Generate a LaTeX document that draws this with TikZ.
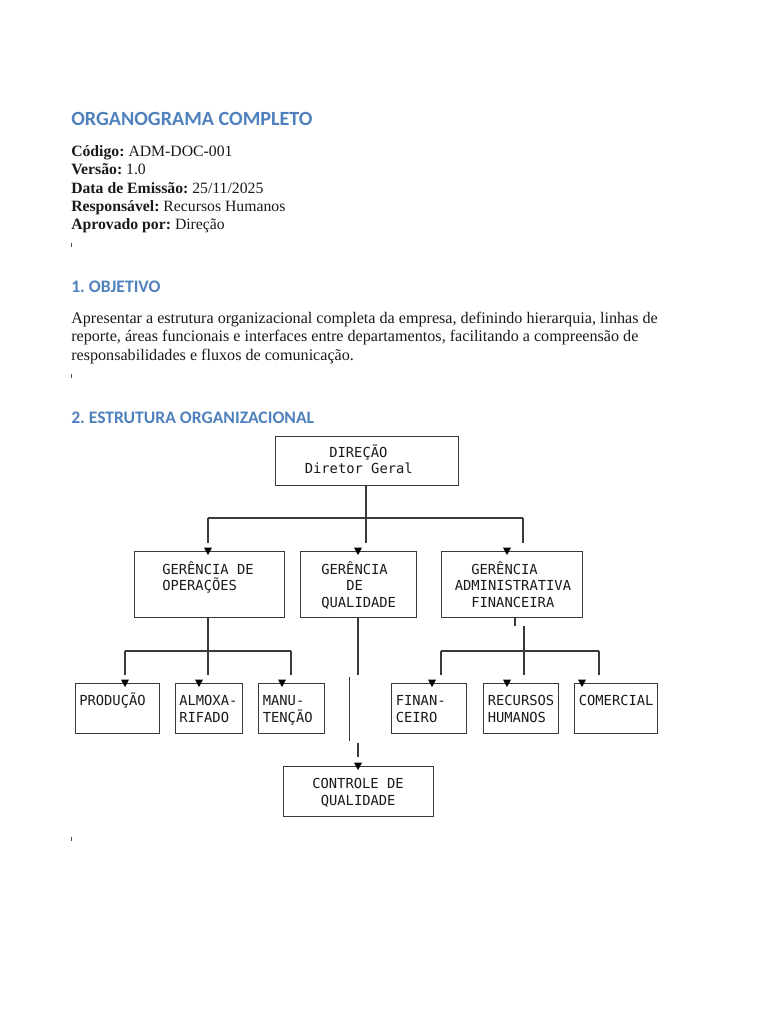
\documentclass[tikz,border=0pt]{standalone}
\usepackage{fontspec}
\setmainfont{Liberation Serif}
\newfontfamily\headfont{Carlito}
\newfontfamily\chartfont{DejaVu Sans Mono}
\definecolor{headblue}{HTML}{4F81BD}
\definecolor{textblack}{HTML}{1A1A1A}
\definecolor{linegray}{HTML}{3A3A3A}
\frenchspacing
\begin{document}
\begin{tikzpicture}[x=0.75pt,y=-0.75pt,
  txt/.style={anchor=base west, inner sep=0pt, text=textblack, font=\fontsize{12.1}{14}\selectfont},
  meta/.style={anchor=base west, inner sep=0pt, text=textblack, font=\fontsize{11.8}{14}\selectfont},
  title/.style={anchor=base west, inner sep=0pt, text=headblue, font=\headfont\bfseries\fontsize{15.1}{18}\selectfont},
  head/.style={anchor=base west, inner sep=0pt, text=headblue, font=\headfont\bfseries\fontsize{13.2}{15}\selectfont},
  pbox/.style 2 args={draw=linegray, line width=0.9pt, inner sep=0pt, anchor=north west,
     minimum width=#1*0.75pt, minimum height=#2*0.75pt},
  mono/.style={anchor=base west, inner sep=0pt, text=textblack, font=\chartfont\fontsize{10.35}{12}\selectfont},
  conn/.style={draw=linegray, line width=0.9pt},
  tick/.style={draw=black!70, line width=0.6pt},
  tiph/.style={fill=black}
]
\useasboundingbox[fill=white] (0,0) rectangle (768,1024);

% ---------- header text ----------
\node[title] (title) at (71,125) {ORGANOGRAMA COMPLETO};
\node[meta] (m1) at (71,156) {\textbf{Código:} ADM-DOC-001};
\node[meta] (m2) at (71,174.5) {\textbf{Versão:} 1.0};
\node[meta] (m3) at (71,193) {\textbf{Data de Emissão:} 25/11/2025};
\node[meta] (m4) at (71,211) {\textbf{Responsável:} Recursos Humanos};
\node[meta] (m5) at (71,229.5) {\textbf{Aprovado por:} Direção};
\draw[tick] (71,242.5) -- (71,246.5);

\node[head] (h1) at (71,292) {1. OBJETIVO};
\node[txt] (p1) at (71,323) {Apresentar a estrutura organizacional completa da empresa, definindo hierarquia, linhas de};
\node[txt] (p2) at (71,341.5) {reporte, áreas funcionais e interfaces entre departamentos, facilitando a compreensão de};
\node[txt] (p3) at (71,360) {responsabilidades e fluxos de comunicação.};
\draw[tick] (71,373.5) -- (71,377.5);

\node[head] (h2) at (71,423) {2. ESTRUTURA ORGANIZACIONAL};
\draw[tick] (71,836.5) -- (71,840.5);

% ---------- boxes ----------
\node[pbox={183}{49}] (dir) at (275,436) {};
\node[pbox={150}{66}] (gop) at (134,551) {};
\node[pbox={116}{66}] (gq)  at (300,551) {};
\node[pbox={141}{66}] (gaf) at (440.5,551) {};
\node[pbox={84}{50}]  (prod) at (75,683) {};
\node[pbox={67}{50}]  (alm) at (175,683) {};
\node[pbox={66}{50}]  (man) at (258,683) {};
\node[pbox={75}{50}]  (fin) at (391,683) {};
\node[pbox={75}{50}]  (rh)  at (482.5,683) {};
\node[pbox={83}{50}]  (com) at (574,683) {};
\node[pbox={150}{50}] (cq)  at (283,766) {};

% ---------- box texts ----------
\node[mono] (dir1) at (329,457.5) {DIREÇÃO};
\node[mono] (dir2) at (304.5,473.5) {Diretor Geral};
\node[mono] (gop1) at (162,574) {GERÊNCIA DE};
\node[mono] (gop2) at (162,590.5) {OPERAÇÕES};
\node[mono] (gq1) at (321,574) {GERÊNCIA};
\node[mono] (gq2) at (346,590.5) {DE};
\node[mono] (gq3) at (321,607) {QUALIDADE};
\node[mono] (gaf1) at (471,574) {GERÊNCIA};
\node[mono] (gaf2) at (454.5,590.5) {ADMINISTRATIVA};
\node[mono] (gaf3) at (471,607) {FINANCEIRA};
\node[mono] (prod1) at (79,705.5) {PRODUÇÃO};
\node[mono] (alm1) at (179,705.5) {ALMOXA-};
\node[mono] (alm2) at (179,722) {RIFADO};
\node[mono] (man1) at (262.5,705.5) {MANU-};
\node[mono] (man2) at (262.5,722) {TENÇÃO};
\node[mono] (fin1) at (395.5,705.5) {FINAN-};
\node[mono] (fin2) at (395.5,722) {CEIRO};
\node[mono] (rh1) at (487.5,705.5) {RECURSOS};
\node[mono] (rh2) at (487.5,722) {HUMANOS};
\node[mono] (com1) at (578.5,705.5) {COMERCIAL};
\node[mono] (cq1) at (312,788.5) {CONTROLE DE};
\node[mono] (cq2) at (320.5,805.5) {QUALIDADE};

% ---------- connector coordinates ----------
\coordinate (busT) at (366,518);
\coordinate (stopT) at (0,543);

% top level
\draw[conn] (dir.south -| busT) -- (stopT -| busT);
\draw[conn] (208,518) -- (523,518);
\draw[conn] (208,518) -- (208,543);
\draw[conn] (523,518) -- (523,543);

% operations subtree
\draw[conn] (gop.south -| 208,0) -- (208,675);
\draw[conn] (125,651) -- (291,651);
\draw[conn] (125,651) -- (125,675);
\draw[conn] (291,651) -- (291,675);

% quality line
\draw[conn] (gq.south -| 358,0) -- (358,675);
\draw[conn] (349.5,676.5) -- (349.5,741);
\draw[conn] (358,742.5) -- (358,757);

% administrative subtree
\draw[conn] (gaf.south -| 515,0) -- (515,626);
\draw[conn] (524,626) -- (524,675);
\draw[conn] (441,651) -- (599,651);
\draw[conn] (441,651) -- (441,675);
\draw[conn] (599,651) -- (599,675);

% arrowheads
\foreach \n/\x in {gop/208, gq/358, gaf/507, prod/125, alm/199, man/282, fin/432, rh/507, com/582, cq/358}{
  \fill[tiph] ([yshift=2.6pt]\n.north -| \x,0) ++(-4,0) -- ++(8,0) -- ++(-4,7.6) -- cycle;
}
\end{tikzpicture}
\end{document}
